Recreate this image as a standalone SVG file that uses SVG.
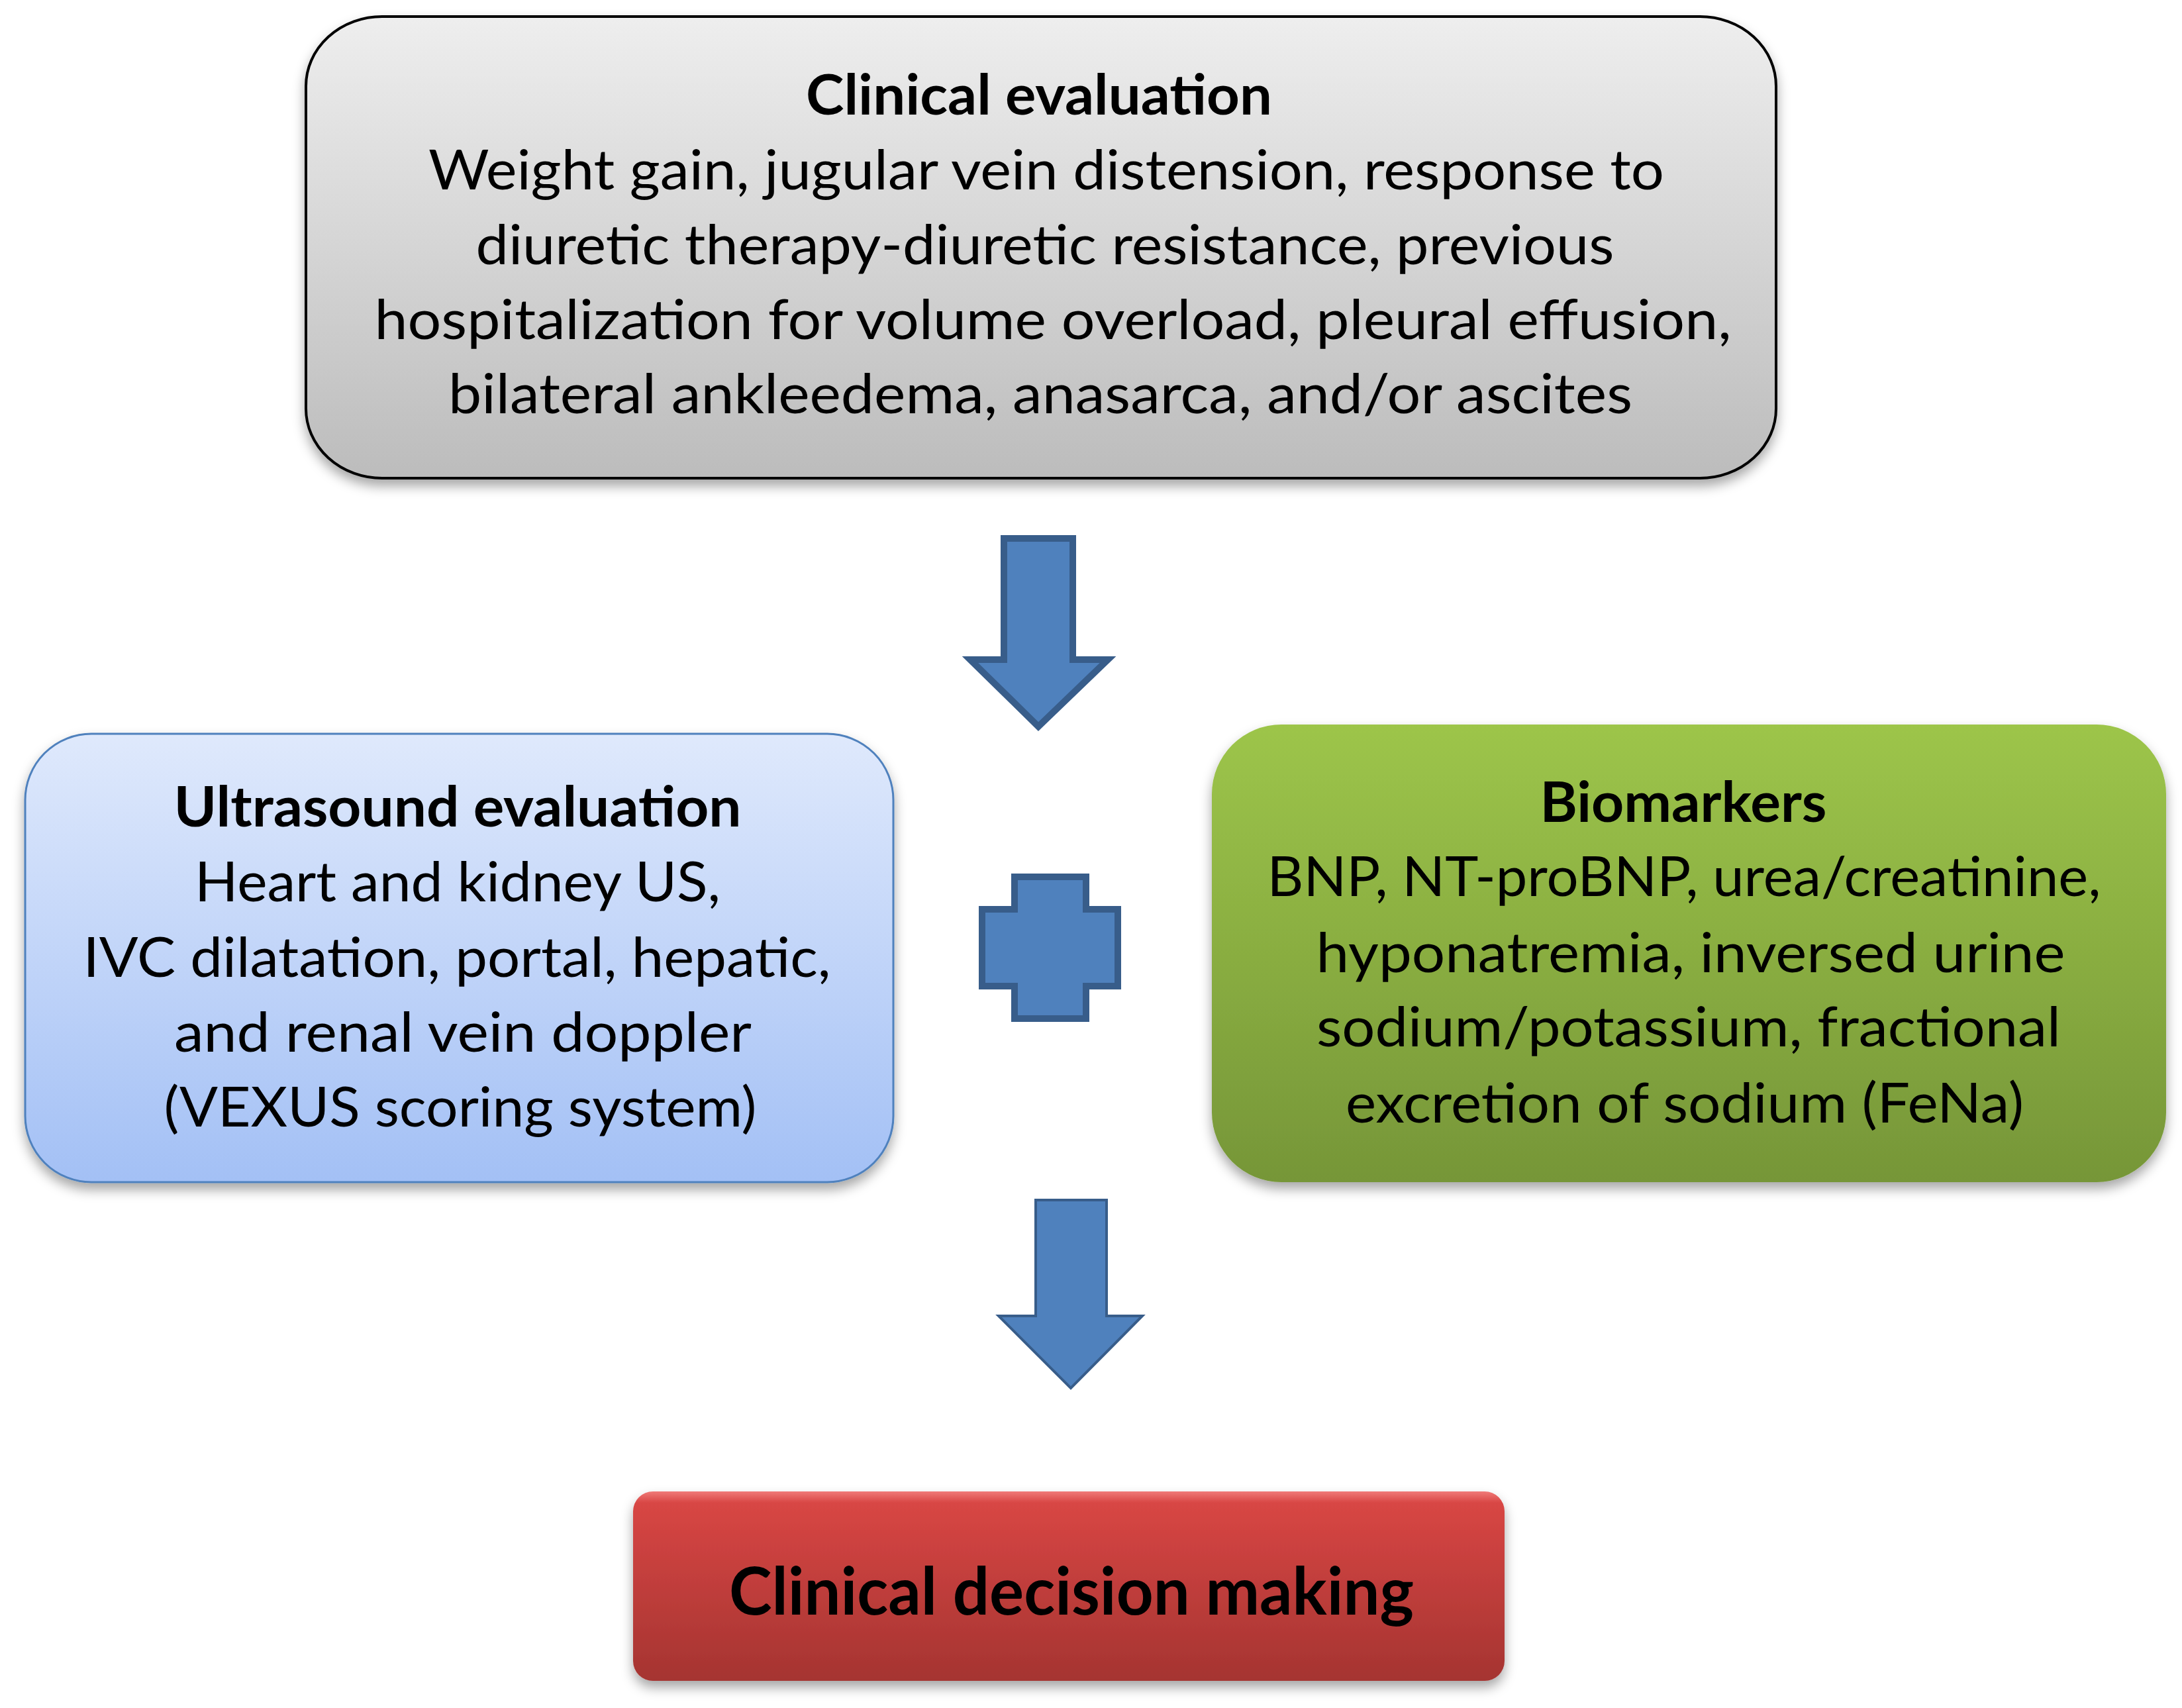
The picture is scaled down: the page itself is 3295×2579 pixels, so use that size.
<svg xmlns="http://www.w3.org/2000/svg" width="3295" height="2579" viewBox="0 0 3295 2579">
<style>
  text { font-family: Lato, "Liberation Sans", sans-serif; fill: #000; text-anchor: middle; }
  .t { font-size: 84px; font-weight: bold; }
  .b { font-size: 84px; }
  .big { font-size: 100px; font-weight: bold; }
  .arrow { fill: #4F81BD; stroke: #385D8A; stroke-linejoin: miter; }
</style>
<defs>
  <linearGradient id="gGray" x1="0" y1="0" x2="0" y2="1">
    <stop offset="0" stop-color="#eeeeee"/>
    <stop offset="1" stop-color="#bcbcbc"/>
  </linearGradient>
  <linearGradient id="gBlue" x1="0" y1="0" x2="0" y2="1">
    <stop offset="0" stop-color="#dfe9fc"/>
    <stop offset="1" stop-color="#a3c0f5"/>
  </linearGradient>
  <linearGradient id="gGreen" x1="0" y1="0" x2="0" y2="1">
    <stop offset="0" stop-color="#9dc54a"/>
    <stop offset="1" stop-color="#769638"/>
  </linearGradient>
  <linearGradient id="gRed" x1="0" y1="0" x2="0" y2="1">
    <stop offset="0" stop-color="#f07a78"/>
    <stop offset="0.06" stop-color="#d84644"/>
    <stop offset="1" stop-color="#a53431"/>
  </linearGradient>
  <filter id="shadow" x="-10%" y="-10%" width="120%" height="130%">
    <feDropShadow dx="0" dy="10" stdDeviation="9" flood-color="#000" flood-opacity="0.35"/>
  </filter>
</defs>

<g id="connectors">
  <path id="arrow1" class="arrow" stroke-width="10" d="M1516,813 L1620,813 L1620,996 L1673,996 L1568,1097 L1465,996 L1516,996 Z"/>
  <path id="plus" class="arrow" stroke-width="10" d="M1532,1324 L1640,1324 L1640,1373 L1688,1373 L1688,1489 L1640,1489 L1640,1538 L1532,1538 L1532,1489 L1483,1489 L1483,1373 L1532,1373 Z"/>
  <path id="arrow2" class="arrow" stroke-width="4" d="M1564,1812 L1671,1812 L1671,1987 L1725,1987 L1617,2096 L1508,1987 L1564,1987 Z"/>
</g>

<g id="node-clinical">
  <rect x="462" y="25" width="2220" height="697" rx="115" ry="105" fill="url(#gGray)" stroke="#000" stroke-width="4" filter="url(#shadow)"/>
  <text class="t" x="1569" y="173" textLength="704" lengthAdjust="spacingAndGlyphs">Clinical evaluation</text>
  <text class="b" x="1580" y="286" textLength="1866" lengthAdjust="spacingAndGlyphs">Weight gain, jugular vein distension, response to</text>
  <text class="b" x="1578" y="399" textLength="1719" lengthAdjust="spacingAndGlyphs">diuretic therapy-diuretic resistance, previous</text>
  <text class="b" x="1590" y="512" textLength="2049" lengthAdjust="spacingAndGlyphs">hospitalization for volume overload, pleural effusion,</text>
  <text class="b" x="1571" y="624" textLength="1788" lengthAdjust="spacingAndGlyphs">bilateral ankleedema, anasarca, and/or ascites</text>
</g>

<g id="node-ultrasound">
  <rect x="38" y="1108" width="1311" height="677" rx="100" ry="100" fill="url(#gBlue)" stroke="#4F81BD" stroke-width="3" filter="url(#shadow)"/>
  <text class="t" x="691" y="1248" textLength="857" lengthAdjust="spacingAndGlyphs">Ultrasound evaluation</text>
  <text class="b" x="691" y="1361" textLength="794" lengthAdjust="spacingAndGlyphs">Heart and kidney US,</text>
  <text class="b" x="690" y="1475" textLength="1129" lengthAdjust="spacingAndGlyphs">IVC dilatation, portal, hepatic,</text>
  <text class="b" x="699" y="1588" textLength="872" lengthAdjust="spacingAndGlyphs">and renal vein doppler</text>
  <text class="b" x="695" y="1701" textLength="895" lengthAdjust="spacingAndGlyphs">(VEXUS scoring system)</text>
</g>

<g id="node-biomarkers">
  <rect x="1830" y="1094" width="1441" height="691" rx="105" ry="105" fill="url(#gGreen)" filter="url(#shadow)"/>
  <text class="t" x="2542" y="1241" textLength="433" lengthAdjust="spacingAndGlyphs">Biomarkers</text>
  <text class="b" x="2543" y="1353" textLength="1259" lengthAdjust="spacingAndGlyphs">BNP, NT-proBNP, urea/creatinine,</text>
  <text class="b" x="2553" y="1468" textLength="1131" lengthAdjust="spacingAndGlyphs">hyponatremia, inversed urine</text>
  <text class="b" x="2550" y="1580" textLength="1124" lengthAdjust="spacingAndGlyphs">sodium/potassium, fractional</text>
  <text class="b" x="2544" y="1695" textLength="1024" lengthAdjust="spacingAndGlyphs">excretion of sodium (FeNa)</text>
</g>

<g id="node-decision">
  <rect x="956" y="2252" width="1316" height="286" rx="30" ry="30" fill="url(#gRed)" filter="url(#shadow)"/>
  <text class="big" x="1618" y="2438" textLength="1034" lengthAdjust="spacingAndGlyphs">Clinical decision making</text>
</g>
</svg>
